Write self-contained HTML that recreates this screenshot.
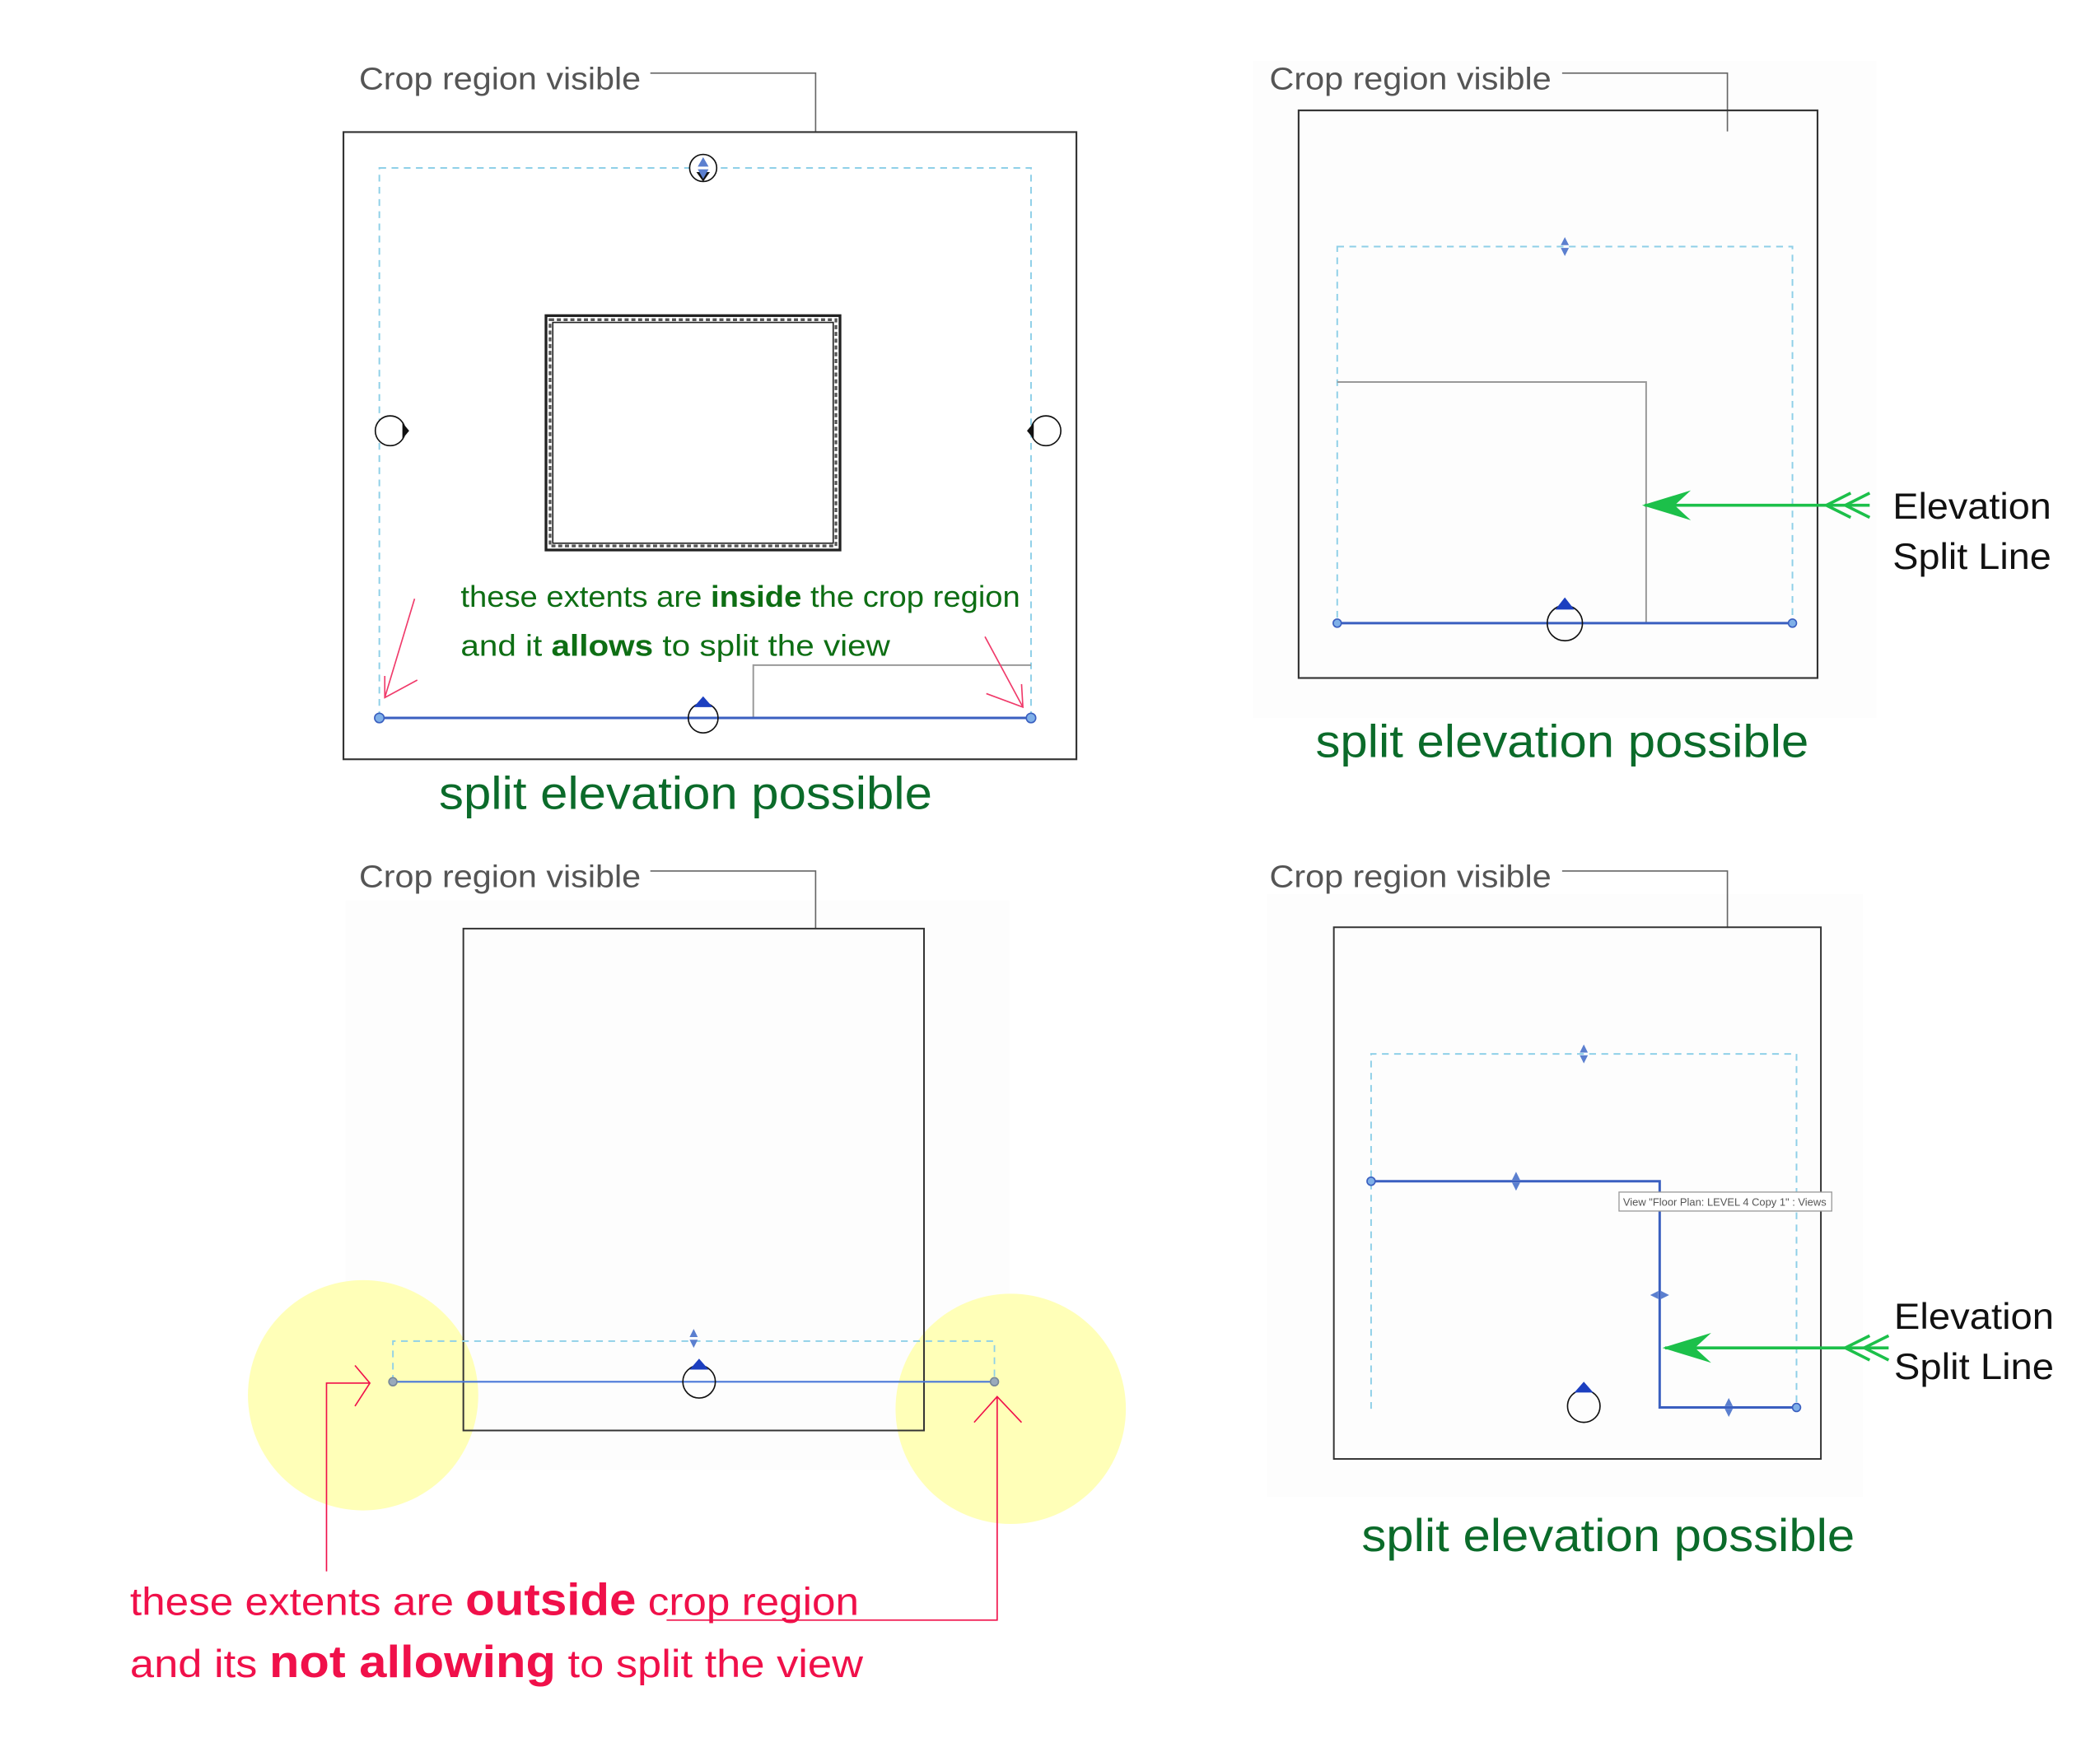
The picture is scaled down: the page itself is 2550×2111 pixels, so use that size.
<!DOCTYPE html>
<html><head><meta charset="utf-8"><style>
html,body{margin:0;padding:0;background:#fff;}
svg{display:block;}
text{font-family:"Liberation Sans",sans-serif;}
</style></head><body>
<svg width="2550" height="2111" viewBox="0 0 1550 1283" preserveAspectRatio="none" xmlns="http://www.w3.org/2000/svg">
<defs>
<marker id="pk" markerWidth="10" markerHeight="10" refX="9" refY="5" orient="auto" markerUnits="userSpaceOnUse"></marker>
</defs>
<rect width="1550" height="1283" fill="#fff"/>

<!-- PANEL 1 -->
<text x="265" y="66" font-size="23" fill="#555" textLength="208" lengthAdjust="spacingAndGlyphs">Crop region visible</text>
<polyline points="480,54 602,54 602,97" fill="none" stroke="#666" stroke-width="1"/>
<rect x="253.5" y="97.5" width="541" height="463" fill="#fff" stroke="#333" stroke-width="1.3"/>
<rect x="280" y="124" width="481" height="406" fill="none" stroke="#8fd0e8" stroke-width="1.2" stroke-dasharray="5,4"/>
<rect x="403" y="233" width="217" height="173" fill="none" stroke="#222" stroke-width="2"/>
<rect x="406" y="236" width="211" height="167" fill="none" stroke="#555" stroke-width="2" stroke-dasharray="3,2"/>
<rect x="408" y="238" width="207" height="163" fill="#fff" stroke="#222" stroke-width="1"/>
<circle cx="519" cy="124" r="10" fill="#fff" stroke="#111"/>
<path d="M514,127 L519,134 L524,127Z" fill="#111"/>
<path d="M515,123 L519,116 L523,123Z M515,125 L519,132 L523,125Z" fill="#5b7fcf"/>
<circle cx="288" cy="318" r="11" fill="#fff" stroke="#111"/>
<path d="M297,312 L302,318 L297,324Z" fill="#111"/>
<circle cx="772" cy="318" r="11" fill="#fff" stroke="#111"/>
<path d="M763,312 L758,318 L763,324Z" fill="#111"/>
<polyline points="556,530 556,491 761,491" fill="none" stroke="#999" stroke-width="1.2"/>
<line x1="280" y1="530" x2="761" y2="530" stroke="#3a5fc0" stroke-width="1.8"/>
<circle cx="519" cy="530" r="11" fill="none" stroke="#111"/>
<path d="M512,522 L519,514 L526,522Z" fill="#1c3fc0"/>
<circle cx="280" cy="530" r="3.5" fill="#7fb0e8" stroke="#3a5fc0"/>
<circle cx="761" cy="530" r="3.5" fill="#7fb0e8" stroke="#3a5fc0"/>
<g stroke="#f03a6a" stroke-width="1" fill="none">
<line x1="306" y1="442" x2="284" y2="515"/>
<polyline points="284,499 284,515 308,502"/>
<line x1="727" y1="470" x2="755" y2="522"/>
<polyline points="728,512 755,522 754,505"/>
</g>
<text x="340" y="448" font-size="22" fill="#0e6e14" textLength="413" lengthAdjust="spacingAndGlyphs">these extents are <tspan font-weight="bold">inside</tspan> the crop region</text>
<text x="340" y="484" font-size="22" fill="#0e6e14" textLength="317" lengthAdjust="spacingAndGlyphs">and it <tspan font-weight="bold">allows</tspan> to split the view</text>
<text x="324" y="597" font-size="34" fill="#0b6b2a" textLength="364" lengthAdjust="spacingAndGlyphs">split elevation possible</text>

<!-- PANEL 2 -->
<rect x="925" y="45" width="460" height="485" fill="#fdfdfd"/>
<text x="937" y="66" font-size="23" fill="#555" textLength="208" lengthAdjust="spacingAndGlyphs">Crop region visible</text>
<polyline points="1153,54 1275,54 1275,97" fill="none" stroke="#666" stroke-width="1"/>
<rect x="958.5" y="81.5" width="383" height="419" fill="none" stroke="#333" stroke-width="1.3"/>
<rect x="987" y="182" width="336" height="278" fill="none" stroke="#8fd0e8" stroke-width="1.2" stroke-dasharray="5,4"/>
<polyline points="987,282 1215,282 1215,460" fill="none" stroke="#999" stroke-width="1.2"/>
<path d="M1152,181 L1155,175 L1158,181Z M1152,183 L1155,189 L1158,183Z" fill="#5b7fcf"/>
<line x1="987" y1="460" x2="1323" y2="460" stroke="#3a5fc0" stroke-width="1.8"/>
<circle cx="1155" cy="460" r="13" fill="none" stroke="#111"/>
<path d="M1148,450 L1155,441 L1162,450Z" fill="#1c3fc0"/>
<circle cx="987" cy="460" r="3" fill="#7fb0e8" stroke="#3a5fc0"/>
<circle cx="1323" cy="460" r="3" fill="#7fb0e8" stroke="#3a5fc0"/>
<g stroke="#1cc04a" stroke-width="2.2" fill="none">
<line x1="1214" y1="373" x2="1380" y2="373"/>
<polyline points="1366,364 1348,373 1366,382"/>
<polyline points="1380,364 1362,373 1380,382"/>
</g>
<path d="M1212,373 L1248,362 L1236,373 L1248,384Z" fill="#1cc04a"/>
<text x="1397" y="383" font-size="27" fill="#111" textLength="117" lengthAdjust="spacingAndGlyphs">Elevation</text>
<text x="1397" y="420" font-size="27" fill="#111" textLength="117" lengthAdjust="spacingAndGlyphs">Split Line</text>
<text x="971" y="559" font-size="34" fill="#0b6b2a" textLength="364" lengthAdjust="spacingAndGlyphs">split elevation possible</text>

<!-- PANEL 3 -->
<rect x="255" y="665" width="490" height="420" fill="#fdfdfd"/>
<circle cx="268" cy="1030" r="85" fill="#ffffb0" fill-opacity="0.9"/>
<circle cx="746" cy="1040" r="85" fill="#ffffb0" fill-opacity="0.9"/>
<text x="265" y="655" font-size="23" fill="#555" textLength="208" lengthAdjust="spacingAndGlyphs">Crop region visible</text>
<polyline points="480,643 602,643 602,685" fill="none" stroke="#666" stroke-width="1"/>
<rect x="342" y="685.5" width="340" height="370.5" fill="none" stroke="#333" stroke-width="1.2"/>
<polyline points="290,1020 290,990 734,990 734,1020" fill="none" stroke="#8fd0e8" stroke-width="1.1" stroke-dasharray="5,4"/>
<line x1="290" y1="1020" x2="734" y2="1020" stroke="#4a78d8" stroke-width="1.3"/>
<path d="M509,987 L512,981 L515,987Z M509,989 L512,995 L515,989Z" fill="#5b7fcf"/>
<circle cx="516" cy="1020" r="12" fill="none" stroke="#111"/>
<path d="M509,1011 L516,1003 L523,1011Z" fill="#1c3fc0"/>
<circle cx="290" cy="1020" r="3" fill="#9ab" stroke="#789"/>
<circle cx="734" cy="1020" r="3" fill="#9ab" stroke="#789"/>
<g stroke="#f0104a" stroke-width="1" fill="none">
<polyline points="241,1160 241,1021 273,1021"/>
<polyline points="262,1008 273,1021 262,1038"/>
<polyline points="492,1196 736,1196 736,1031"/>
<polyline points="719,1050 736,1031 754,1050"/>
</g>
<text x="96" y="1192" font-size="29" fill="#f0104a" textLength="538" lengthAdjust="spacingAndGlyphs">these extents are <tspan font-weight="bold" font-size="33">outside</tspan> crop region</text>
<text x="96" y="1238" font-size="29" fill="#f0104a" textLength="541" lengthAdjust="spacingAndGlyphs">and its <tspan font-weight="bold" font-size="33">not allowing</tspan> to split the view</text>

<!-- PANEL 4 -->
<rect x="935" y="660" width="440" height="445" fill="#fdfdfd"/>
<text x="937" y="655" font-size="23" fill="#555" textLength="208" lengthAdjust="spacingAndGlyphs">Crop region visible</text>
<polyline points="1153,643 1275,643 1275,685" fill="none" stroke="#666" stroke-width="1"/>
<rect x="984.5" y="684.5" width="359.5" height="392.5" fill="none" stroke="#333" stroke-width="1.2"/>
<polyline points="1012,1040 1012,778 1326,778 1326,1039" fill="none" stroke="#8fd0e8" stroke-width="1.2" stroke-dasharray="5,4"/>
<polyline points="1012,872 1225,872 1225,1039 1326,1039" fill="none" stroke="#3a5fc0" stroke-width="1.8"/>
<circle cx="1012" cy="872" r="3" fill="#7fb0e8" stroke="#3a5fc0"/>
<circle cx="1326" cy="1039" r="3" fill="#7fb0e8" stroke="#3a5fc0"/>
<path d="M1166,777 L1169,771 L1172,777Z M1166,779 L1169,785 L1172,779Z" fill="#5b7fcf"/>
<path d="M1116,871 L1119,865 L1122,871Z M1116,873 L1119,879 L1122,873Z" fill="#5b7fcf"/>
<path d="M1273,1038 L1276,1032 L1279,1038Z M1273,1040 L1276,1046 L1279,1040Z" fill="#5b7fcf"/>
<path d="M1224,953 L1218,956 L1224,959Z M1226,953 L1232,956 L1226,959Z" fill="#5b7fcf"/>
<rect x="1195" y="880" width="157" height="14" fill="#fff" stroke="#999" stroke-width="0.8"/>
<text x="1198" y="890" font-size="8" fill="#555" textLength="150" lengthAdjust="spacingAndGlyphs">View "Floor Plan: LEVEL 4 Copy 1" : Views</text>
<circle cx="1169" cy="1038" r="12" fill="none" stroke="#111"/>
<path d="M1162,1028 L1169,1020 L1176,1028Z" fill="#1c3fc0"/>
<g stroke="#1cc04a" stroke-width="2.2" fill="none">
<line x1="1229" y1="995" x2="1394" y2="995"/>
<polyline points="1380,986 1362,995 1380,1004"/>
<polyline points="1394,986 1376,995 1394,1004"/>
</g>
<path d="M1227,995 L1263,984 L1251,995 L1263,1006Z" fill="#1cc04a"/>
<text x="1398" y="981" font-size="27" fill="#111" textLength="118" lengthAdjust="spacingAndGlyphs">Elevation</text>
<text x="1398" y="1018" font-size="27" fill="#111" textLength="118" lengthAdjust="spacingAndGlyphs">Split Line</text>
<text x="1005" y="1145" font-size="34" fill="#0b6b2a" textLength="364" lengthAdjust="spacingAndGlyphs">split elevation possible</text>
</svg>
</body></html>
